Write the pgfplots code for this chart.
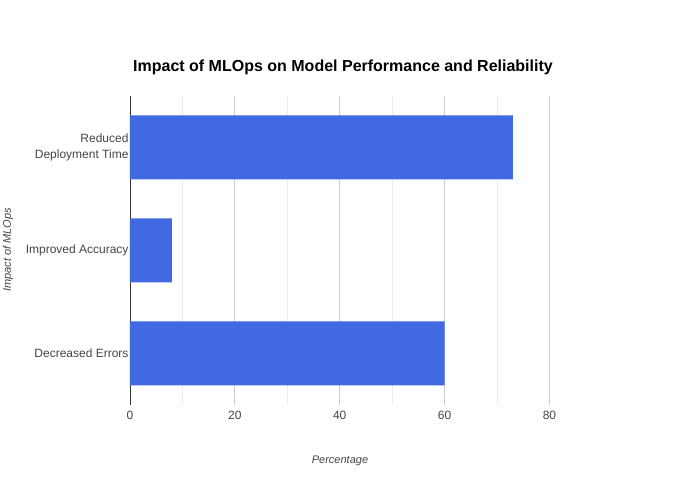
\documentclass[border=0pt]{standalone}
\usepackage{fontspec}
\setmainfont{Liberation Sans}
\usepackage{pgfplots}
\pgfplotsset{compat=1.18}
\definecolor{barblue}{HTML}{4169E1}
\definecolor{tickgray}{HTML}{444444}
\definecolor{majgrid}{HTML}{CCCCCC}
\definecolor{mingrid}{HTML}{EBEBEB}
\begin{document}
\begin{tikzpicture}[x=1pt,y=1pt]
\path[use as bounding box] (0,0) rectangle (680,500);
\begin{axis}[
  at={(130pt,95pt)}, anchor=south west,
  scale only axis, width=419.5pt, height=309pt,
  xbar, bar width=64pt,
  xmin=0, xmax=80, ymin=-0.5, ymax=2.5,
  ytick={0,1,2},
  yticklabels={Decreased Errors, Improved Accuracy, {Reduced\\Deployment Time}},
  yticklabel style={align=right, font=\fontsize{12}{16.5}\selectfont, text=tickgray, xshift=2pt},
  xtick={0,20,40,60,80}, minor xtick={10,30,50,70},
  xticklabel style={font=\fontsize{12}{14}\selectfont, text=tickgray, yshift=-3pt},
  /pgf/number format/assume math mode=true,
  xmajorgrids, xminorgrids,
  major grid style={color=majgrid, line width=0.8pt},
  minor grid style={color=mingrid, line width=0.8pt},
  major tick length=0pt, minor tick length=0pt,
  axis lines=left,
  x axis line style={draw=none},
  y axis line style={draw=black!80, line width=0.8pt, -},
]
\addplot[fill=barblue, draw=none] coordinates {(60,0) (8,1) (73,2)};
\end{axis}
\node[font=\fontsize{16}{20}\selectfont\bfseries, anchor=center] at (343,433) {Impact of MLOps on Model Performance and Reliability};
\node[font=\fontsize{11}{13}\selectfont\itshape, text=tickgray, anchor=center] at (340,39) {Percentage};
\node[font=\fontsize{11}{13}\selectfont\itshape, text=tickgray, anchor=center, rotate=90] at (8,250) {Impact of MLOps};
\end{tikzpicture}
\end{document}
